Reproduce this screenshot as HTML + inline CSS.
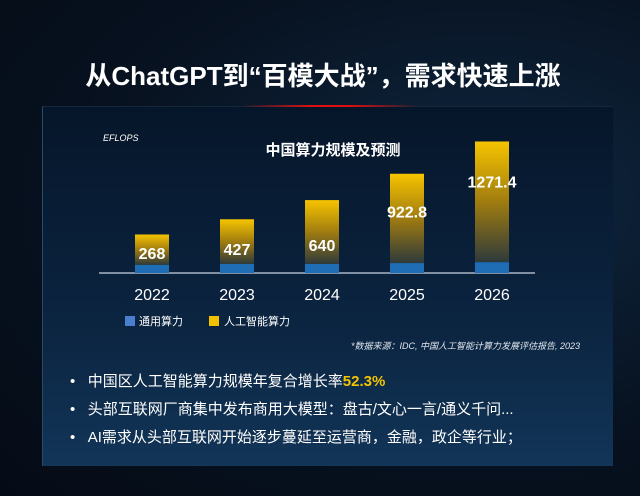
<!DOCTYPE html>
<html><head><meta charset="utf-8"><style>
body{margin:0;width:640px;height:496px;overflow:hidden;background:#060d1a;font-family:"Liberation Sans","Noto Sans CJK SC",sans-serif;}
#root{position:relative;width:640px;height:496px;background:radial-gradient(ellipse at 75% 40%,#0f2740 0%,#07111f 60%,#050b16 100%);}
.t{position:absolute;color:#fff;white-space:nowrap;}
</style></head><body>
<div id="root">
<div class="t" style="left:0;width:646px;text-align:center;top:56px;font-size:26px;font-weight:bold;">从ChatGPT到“百模大战”，需求快速上涨</div>
<div style="position:absolute;left:42px;top:106px;width:570px;height:359px;background:linear-gradient(180deg,#06162a 0%,#0b2440 60%,#123558 100%);border-left:1px solid #2a4a66;border-top:1px solid #13263a;"></div>
<div style="position:absolute;left:240px;top:105px;width:180px;height:2px;background:linear-gradient(90deg,rgba(200,0,0,0),#e01010 40%,#e01010 60%,rgba(200,0,0,0));"></div>
<svg id="chart" width="640" height="496" style="position:absolute;left:0;top:0">
<defs><linearGradient id="gold" x1="0" y1="0" x2="0" y2="1"><stop offset="0" stop-color="#f6c400"/><stop offset="0.5" stop-color="#a07c10"/><stop offset="1" stop-color="#2e3a3a"/></linearGradient></defs>
<text x="103" y="141" fill="#fff" font-size="9" font-style="italic">EFLOPS</text>
<text x="333" y="155" fill="#fff" font-size="15" font-weight="bold" text-anchor="middle">中国算力规模及预测</text>
<line x1="99" y1="273" x2="535" y2="273" stroke="#c8d4e0" stroke-width="1.2"/>
<g id="bars"></g>
<rect x="125" y="316" width="10" height="10" fill="#4a7fd0"/>
<text x="139" y="325" fill="#fff" font-size="11">通用算力</text>
<rect x="209" y="316" width="10" height="10" fill="#f2c200"/>
<text x="224" y="325" fill="#fff" font-size="11">人工智能算力</text>
<text x="580" y="349" fill="#e0e6ee" font-size="9" font-style="italic" text-anchor="end">*数据来源：IDC, 中国人工智能计算力发展评估报告, 2023</text>
</svg>
<div>
<div class="t" style="left:70px;top:370px;font-size:15px;">•&nbsp;&nbsp;&nbsp;中国区人工智能算力规模年复合增长率<b style="color:#f5c400">52.3%</b></div>
<div class="t" style="left:70px;top:398px;font-size:15px;">•&nbsp;&nbsp;&nbsp;头部互联网厂商集中发布商用大模型：盘古/文心一言/通义千问...</div>
<div class="t" style="left:70px;top:426px;font-size:15px;">•&nbsp;&nbsp;&nbsp;AI需求从头部互联网开始逐步蔓延至运营商，金融，政企等行业；</div>
</div>
</div>
<script>
const years=["2022","2023","2024","2025","2026"];
const aiValues=[268,427,640,922.8,1271.4];
const generalValues=[90,100,100,110,120];
const aiLabels=["268","427","640","922.8","1271.4"];
const base=273,k=0.09,off=70,x0=135,step=85,bw=34;
function xPos(i){return x0+i*step;}
function hGen(v){return v*k;}
function hTot(g,a){return (g+a+off)*k;}
const ns="http://www.w3.org/2000/svg",g=document.getElementById('bars');
function mk(t,a){const e=document.createElementNS(ns,t);for(const n in a)e.setAttribute(n,a[n]);g.appendChild(e);return e;}
years.forEach((y,i)=>{
 const x=xPos(i),ht=hTot(generalValues[i],aiValues[i]),hg=hGen(generalValues[i]);
 const r1=mk('rect',{x:x,y:base-ht,width:bw,height:ht-hg,fill:'url(#gold)'});
 
 
 const r2=mk('rect',{x:x,y:base-hg,width:bw,height:hg,fill:'#1e6db5'});
 
 
 const t=mk('text',{x:x+bw/2,y:i==4?base-ht+46:(i==3?base-ht+44:base-hg-(ht-hg)*0.2),fill:'#fff','font-size':16,'font-weight':'bold','text-anchor':'middle'});
 t.textContent=aiLabels[i];
 
 
 const xl=mk('text',{x:x+bw/2,y:300,fill:'#fff','font-size':16,'text-anchor':'middle'});
 xl.textContent=y;
 
 
});
</script>
</body></html>
